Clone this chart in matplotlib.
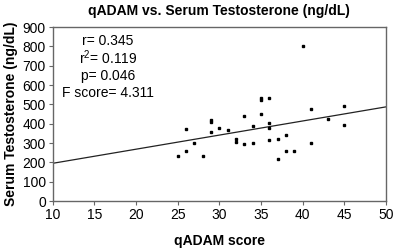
import matplotlib
matplotlib.use("Agg")
import matplotlib.pyplot as plt

plt.rcParams['font.family'] = ['Liberation Sans', 'DejaVu Sans']
plt.rcParams['mathtext.fontset'] = 'custom'
plt.rcParams['mathtext.rm'] = 'Liberation Sans'
plt.rcParams['mathtext.it'] = 'Liberation Sans'

# data
qadam = [40, 35, 35, 36, 35, 41, 45, 33, 43, 29, 29, 36, 34, 36, 45, 30, 31, 26, 29,
         32, 32, 36, 37, 38, 27, 33, 34, 41, 26, 38, 39, 25, 28, 37]
testo = [800, 535, 522, 534, 450, 476, 490, 438, 422, 419, 407, 405, 390, 378, 393, 379, 367, 371, 355,
         322, 303, 317, 321, 340, 302, 295, 300, 300, 259, 259, 257, 234, 234, 216]
fit_x = [10, 50]
fit_y = [195, 487]
stats_lines = ["r= 0.345", "r$^2$= 0.119", "p= 0.046", "F score= 4.311"]
xticks = [10, 15, 20, 25, 30, 35, 40, 45, 50]
yticks = [0, 100, 200, 300, 400, 500, 600, 700, 800, 900]

fig = plt.figure(figsize=(3.94, 2.48), dpi=100)
ax = fig.add_axes([0.1338, 0.1895, 0.8459, 0.7015])

ax.plot(fit_x, fit_y, color='#222222', lw=0.9)
ax.plot(qadam, testo, linestyle='none', marker='s', markersize=2.0, color='black')

ax.set_xlim(10, 50)
ax.set_ylim(0, 900)
ax.set_xticks(xticks)
ax.set_yticks(yticks)
ax.tick_params(direction='out', length=3, width=0.8, color='#666666', labelsize=10, pad=2)
for s in ax.spines.values():
    s.set_color('#666666')
    s.set_linewidth(1.0)

ax.set_xlabel('qADAM score', fontsize=10, fontweight='bold', labelpad=9)
ax.set_ylabel('Serum Testosterone (ng/dL)', fontsize=10, fontweight='bold', labelpad=3)
ax.set_title('qADAM vs. Serum Testosterone (ng/dL)', fontsize=10, fontweight='bold', pad=9)

ys = [0.92, 0.825, 0.72, 0.62]
for t, y in zip(stats_lines, ys):
    ax.text(0.166, y, t, transform=ax.transAxes, ha='center', va='center', fontsize=10)

fig.savefig('out.png', dpi=100)
